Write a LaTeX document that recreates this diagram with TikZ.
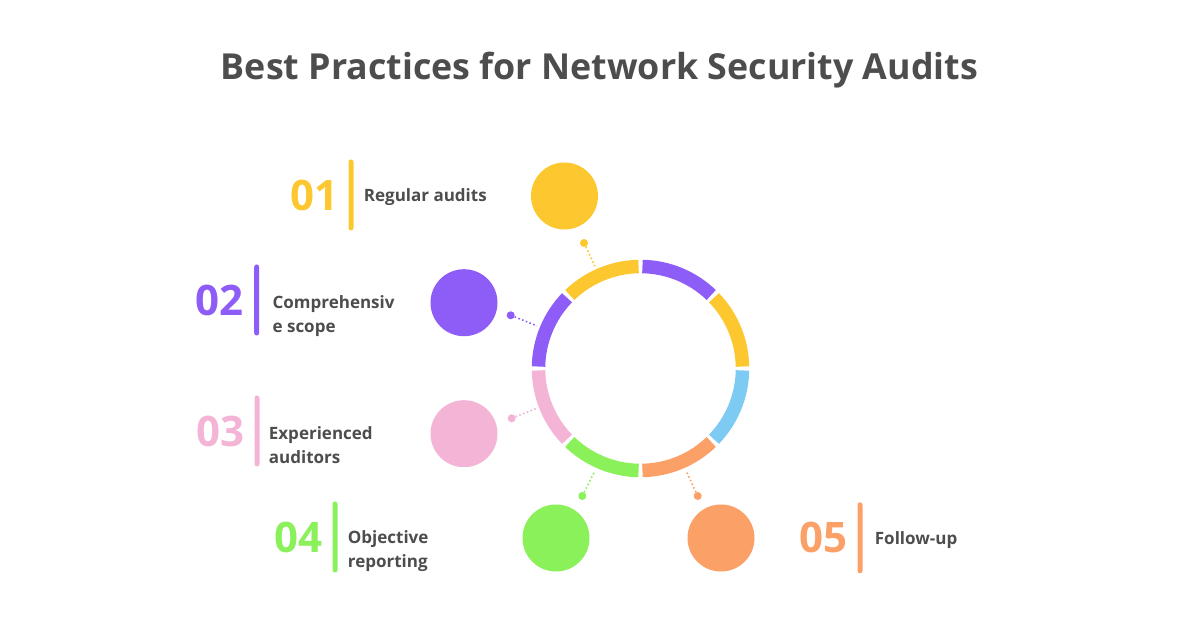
\documentclass[tikz,border=0pt]{standalone}
\usepackage{fontspec}
\setmainfont{Open Sans}
\usetikzlibrary{positioning}

\definecolor{ink}{HTML}{4D4D4D}
\definecolor{cYellow}{HTML}{FDC82F}
\definecolor{cPurple}{HTML}{8E5CF6}
\definecolor{cPink}{HTML}{F3B4D6}
\definecolor{cGreen}{HTML}{8BF15B}
\definecolor{cOrange}{HTML}{FBA066}
\definecolor{cBlue}{HTML}{7DCBF3}

\begin{document}
\begin{tikzpicture}[
    x=1pt, y=1pt,
    node distance=10pt,
    ring/.style={line width=13.5pt},
    blob/.style={circle, minimum size=67pt, inner sep=0pt},
    dot/.style={circle, minimum size=8pt, inner sep=0pt},
    link/.style={line width=1.6pt, dash pattern=on 1.6pt off 2.4pt},
    bar/.style={
        rectangle,
        rounded corners=2.5pt,
        minimum width=5pt,
        minimum height=71pt,
        inner sep=0pt
    },
    num/.style={font=\bfseries\fontsize{42}{42}\selectfont, inner sep=0pt},
    item/.style={
        font=\bfseries\fontsize{17}{24}\selectfont,
        text=ink,
        align=left,
        inner sep=0pt,
        anchor=base west
    }
]
\fill[white] (0,0) rectangle (1200,628);
\useasboundingbox (0,0) rectangle (1200,628);

\node[font=\bfseries\fontsize{35.8}{40}\selectfont, text=ink, anchor=base] (title) at (599.5,548.7) {Best Practices for Network Security Audits};

\coordinate (c) at (640.5,259.5);
\foreach \a/\col in {90/cYellow, 45/cPurple, 0/cYellow, -45/cBlue, -90/cOrange, -135/cGreen, 180/cPink, 135/cPurple}
    \draw[ring, \col] ([shift={(\a+1.1:102)}]c) arc[start angle=\a+1.1, end angle=\a+43.9, radius=102];

\node[blob, fill=cYellow] (k1) at (564.5,432) {};
\node[blob, fill=cPurple] (k2) at (464,325.3) {};
\node[blob, fill=cPink] (k3) at (464,194.3) {};
\node[blob, fill=cGreen] (k4) at (556,90) {};
\node[blob, fill=cOrange] (k5) at (721,90) {};

\node[dot, fill=cYellow] (d1) at (584,385) {};
\node[dot, fill=cPurple] (d2) at (510.7,312.7) {};
\node[dot, fill=cPink] (d3) at (511.7,209.7) {};
\node[dot, fill=cGreen] (d4) at (582.3,132) {};
\node[dot, fill=cOrange] (d5) at (697.7,132) {};

\coordinate (e1) at ([shift={(114:112)}]c);
\coordinate (e2) at ([shift={(157.6:112)}]c);
\coordinate (e3) at ([shift={(201:112)}]c);
\coordinate (e4) at ([shift={(246:112)}]c);
\coordinate (e5) at ([shift={(294:112)}]c);

\draw[link, cYellow] (d1) -- (e1);
\draw[link, cPurple] (d2) -- (e2);
\draw[link, cPink] (d3) -- (e3);
\draw[link, cGreen] (d4) -- (e4);
\draw[link, cOrange] (d5) -- (e5);

\node[bar, fill=cYellow] (b1) at (351,433) {};
\node[bar, fill=cPurple] (b2) at (256.7,328) {};
\node[bar, fill=cPink] (b3) at (257,197) {};
\node[bar, fill=cGreen] (b4) at (335,91) {};
\node[bar, fill=cOrange] (b5) at (860,90.2) {};

\node[num, text=cYellow, left=of b1] (n1) {01};
\node[num, text=cPurple, left=of b2] (n2) {02};
\node[num, text=cPink, left=of b3] (n3) {03};
\node[num, text=cGreen, left=of b4] (n4) {04};
\node[num, text=cOrange, left=of b5] (n5) {05};

\node[item] (t1) at ([xshift=10pt, yshift=-7pt]b1.east) {Regular audits};
\node[item] (t2) at ([xshift=13pt, yshift=-33pt]b2.east) {Comprehensiv\\e scope};
\node[item] (t3) at ([xshift=9pt, yshift=-33pt]b3.east) {Experienced\\auditors};
\node[item] (t4) at ([xshift=10pt, yshift=-31pt]b4.east) {Objective\\reporting};
\node[item] (t5) at ([xshift=12pt, yshift=-7pt]b5.east) {Follow-up};
\end{tikzpicture}
\end{document}
